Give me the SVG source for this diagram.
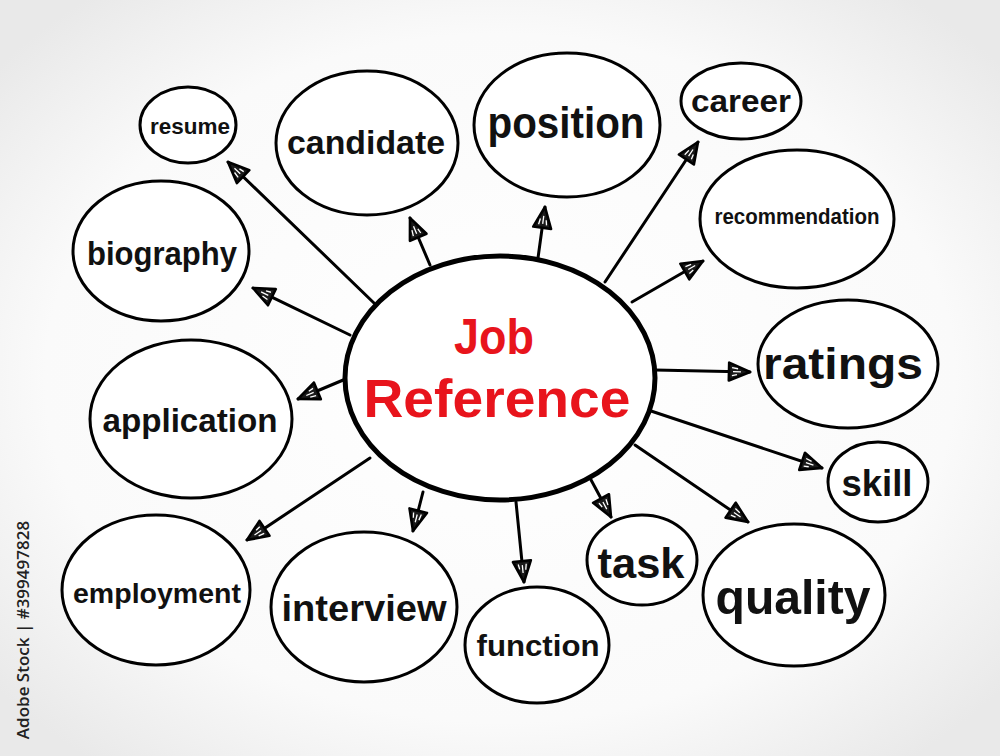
<svg xmlns="http://www.w3.org/2000/svg" width="1000" height="756" viewBox="0 0 1000 756">
<defs>
<radialGradient id="bg" cx="50%" cy="50%" r="65%">
<stop offset="0%" stop-color="#ffffff"/>
<stop offset="70%" stop-color="#fafafa"/>
<stop offset="100%" stop-color="#e9e9e9"/>
</radialGradient>
<marker id="ah" viewBox="-24 -12 26 24" refX="0" refY="0" markerWidth="26" markerHeight="24" markerUnits="userSpaceOnUse" orient="auto">
<path d="M0,0 L-21,-9 L-21,9 Z" fill="#1a1a1a" stroke="#000" stroke-width="2.6" stroke-linejoin="round"/>
<path d="M-18,-4 L-12,-3 M-17,0 L-9,0 M-18,4 L-13,3" stroke="#fff" stroke-width="1.3" fill="none"/>
</marker>
<style>
.n{fill:#fff;stroke:#000;stroke-width:3}
.t{font-family:"Liberation Sans","DejaVu Sans",sans-serif;font-weight:700;fill:#111;text-anchor:middle;dominant-baseline:central}
.c line{stroke:#000;stroke-width:3;stroke-linecap:round;marker-end:url(#ah)}
.r{font-family:"Liberation Sans","DejaVu Sans",sans-serif;font-weight:700;fill:#e8141c;text-anchor:middle;dominant-baseline:central}
</style>
</defs>
<rect width="1000" height="756" fill="url(#bg)"/>
<g class="c" id="connectors">
<line x1="374" y1="303" x2="228" y2="162"/>
<line x1="430" y1="265" x2="410" y2="218"/>
<line x1="538" y1="258" x2="545" y2="207"/>
<line x1="605" y1="282" x2="698" y2="142"/>
<line x1="632" y1="302" x2="703" y2="261"/>
<line x1="655" y1="370" x2="750" y2="372"/>
<line x1="648" y1="410" x2="822" y2="468"/>
<line x1="635" y1="445" x2="748" y2="522"/>
<line x1="590" y1="478" x2="611" y2="517"/>
<line x1="516" y1="502" x2="524" y2="582"/>
<line x1="423" y1="492" x2="413" y2="531"/>
<line x1="370" y1="458" x2="247" y2="540"/>
<line x1="348" y1="378" x2="298" y2="399"/>
<line x1="350" y1="335" x2="253" y2="288"/>
</g>
<g id="center">
<ellipse cx="500" cy="378" rx="155" ry="122" fill="#fff" stroke="#000" stroke-width="5"/>
<text class="r" x="494" y="337" font-size="50" textLength="80" lengthAdjust="spacingAndGlyphs">Job</text>
<text class="r" x="497" y="398" font-size="54" textLength="267" lengthAdjust="spacingAndGlyphs">Reference</text>
</g>
<g id="resume"><ellipse class="n" cx="188" cy="125" rx="48" ry="38"/><text class="t" x="190" y="126" font-size="22" textLength="80" lengthAdjust="spacingAndGlyphs">resume</text></g>
<g id="candidate"><ellipse class="n" cx="367" cy="143" rx="91" ry="72"/><text class="t" x="366" y="142" font-size="34" textLength="158" lengthAdjust="spacingAndGlyphs">candidate</text></g>
<g id="position"><ellipse class="n" cx="567" cy="125" rx="93" ry="72"/><text class="t" x="566" y="122" font-size="44" textLength="157" lengthAdjust="spacingAndGlyphs">position</text></g>
<g id="career"><ellipse class="n" cx="741" cy="101" rx="60" ry="38"/><text class="t" x="741" y="101" font-size="32" textLength="100" lengthAdjust="spacingAndGlyphs">career</text></g>
<g id="recommendation"><ellipse class="n" cx="797" cy="219" rx="97" ry="69"/><text class="t" x="797" y="216" font-size="22" textLength="165" lengthAdjust="spacingAndGlyphs">recommendation</text></g>
<g id="ratings"><ellipse class="n" cx="848" cy="364" rx="90" ry="64"/><text class="t" x="843" y="363" font-size="44" textLength="160" lengthAdjust="spacingAndGlyphs">ratings</text></g>
<g id="skill"><ellipse class="n" cx="878" cy="482" rx="50" ry="40"/><text class="t" x="877" y="483" font-size="36" textLength="71" lengthAdjust="spacingAndGlyphs">skill</text></g>
<g id="quality"><ellipse class="n" cx="794" cy="595" rx="91" ry="71"/><text class="t" x="793" y="597" font-size="48" textLength="155" lengthAdjust="spacingAndGlyphs">quality</text></g>
<g id="task"><ellipse class="n" cx="642" cy="560" rx="55" ry="45"/><text class="t" x="641" y="563" font-size="42" textLength="87" lengthAdjust="spacingAndGlyphs">task</text></g>
<g id="function"><ellipse class="n" cx="537" cy="645" rx="72" ry="58"/><text class="t" x="538" y="645" font-size="30" textLength="123" lengthAdjust="spacingAndGlyphs">function</text></g>
<g id="interview"><ellipse class="n" cx="364" cy="607" rx="93" ry="75"/><text class="t" x="364" y="608" font-size="36" textLength="165" lengthAdjust="spacingAndGlyphs">interview</text></g>
<g id="employment"><ellipse class="n" cx="156" cy="590" rx="94" ry="75"/><text class="t" x="157" y="593" font-size="28" textLength="168" lengthAdjust="spacingAndGlyphs">employment</text></g>
<g id="application"><ellipse class="n" cx="191" cy="419" rx="101" ry="79"/><text class="t" x="190" y="420" font-size="34" textLength="175" lengthAdjust="spacingAndGlyphs">application</text></g>
<g id="biography"><ellipse class="n" cx="161" cy="251" rx="88" ry="70"/><text class="t" x="162" y="253" font-size="34" textLength="150" lengthAdjust="spacingAndGlyphs">biography</text></g>
<text x="22" y="630" transform="rotate(-90 22 630)" font-family="'Open Sans','Noto Sans',sans-serif" font-weight="600" font-size="17" fill="#222" text-anchor="middle" dominant-baseline="central">Adobe Stock | #399497828</text>
</svg>
